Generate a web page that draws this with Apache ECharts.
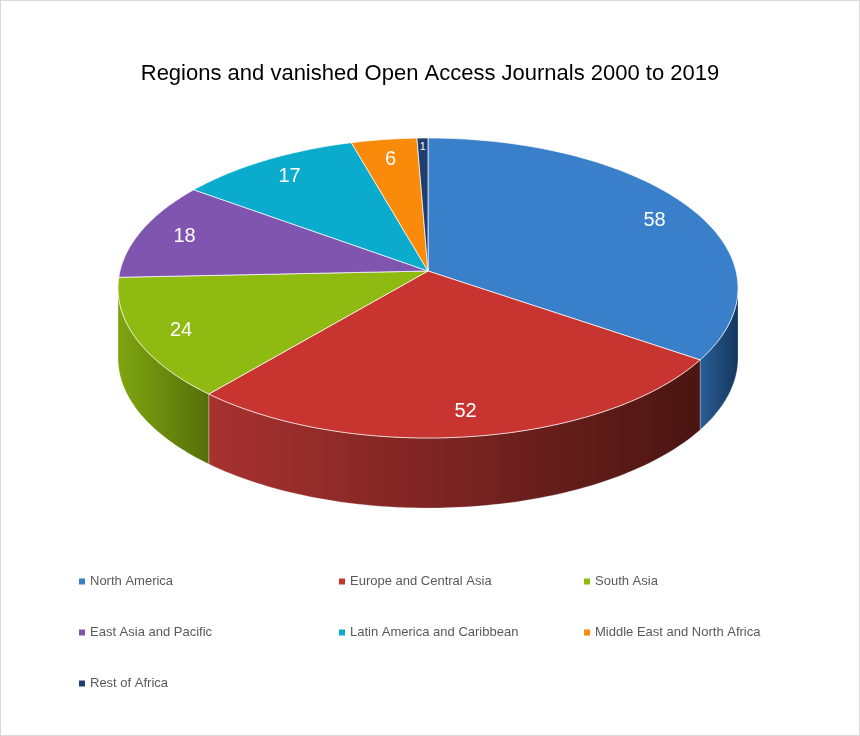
<!DOCTYPE html>
<html><head><meta charset="utf-8">
<script src="https://cdn.jsdelivr.net/npm/echarts@6/dist/echarts.min.js"></script>
<style>html,body{margin:0;padding:0;background:#fff}#c{width:860px;height:736px;box-sizing:border-box;border:1px solid #d9d9d9}</style>
</head><body><div id="c"></div>
<script>
const categories=["North America","Europe and Central Asia","South Asia","East Asia and Pacific","Latin America and Caribbean","Middle East and North Africa","Rest of Africa"];
const values=[58,52,24,18,17,6,1];
const colors=["#3a7fc9","#c83430","#8fba12","#7f55b0","#0aabcc","#f98a0a","#1d3e6e"];
const sideDark=["#14365e","#4a1512","#55700a","#4a3070","#067085","#9a5206","#0e1f38"];
const sideLight=["#2a5e96","#a83230","#7fa50f","#6a4698","#089abb","#d07508","#183660"];
const total=values.reduce((a,b)=>a+b,0);
const cx=427,cy=287,rx=310,ry=150,ax=427,ay=270,depth=70;
function pt(t,dy){return [cx+rx*Math.sin(t),cy-ry*Math.cos(t)+(dy||0)];}
function arc(a,b,dy){const n=Math.max(2,Math.ceil((b-a)/0.02));const p=[];for(let i=0;i<=n;i++)p.push(pt(a+(b-a)*i/n,dy));return p;}
const chart=echarts.init(document.getElementById('c'));
chart.setOption({
  color:colors,
  title:{text:"Regions and vanished Open Access Journals 2000 to 2019",left:'center',top:57,textStyle:{fontSize:22,fontWeight:'normal',color:'#000',fontFamily:'Liberation Sans, Arial'}},
  legend:[
    {data:[categories[0],categories[3],categories[6]],orient:'vertical',left:73,top:569,itemGap:38},
    {data:[categories[1],categories[4]],orient:'vertical',left:333,top:569,itemGap:38},
    {data:[categories[2],categories[5]],orient:'vertical',left:578,top:569,itemGap:38}
  ].map(l=>Object.assign(l,{icon:'rect',itemWidth:6,itemHeight:6,textStyle:{fontSize:13,color:'#595959',fontFamily:'Liberation Sans, Arial'}})),
  series:[
    {type:'pie',radius:[0,0],center:[-100,-100],data:categories.map((c,i)=>({name:c,value:values[i]})),label:{show:false},silent:true},
    {type:'custom',coordinateSystem:'none',data:values.map((v,i)=>[v,i]),
     renderItem:function(params,api){
       const i=api.value(1),v=api.value(0);
       let before=0;for(let k=0;k<i;k++)before+=values[k];
       const a=before/total*2*Math.PI,b=(before+v)/total*2*Math.PI;
       const children=[];
       const s=Math.max(a,Math.PI/2),e=Math.min(b,Math.PI*1.5);
       if(e>s){
         const top=arc(s,e,0),bot=arc(s,e,depth).reverse();
         children.push({type:'polygon',z2:1,shape:{points:top.concat(bot)},style:{fill:new echarts.graphic.LinearGradient(0,0,1,0,[{offset:0,color:sideLight[i]},{offset:1,color:sideDark[i]}]),stroke:'rgba(255,255,255,0.5)',lineWidth:0.5}});
       }
       const face=[[ax,ay]].concat(arc(a,b,0));
       children.push({type:'polygon',z2:10,shape:{points:face},style:{fill:colors[i],stroke:'#fff',lineWidth:0.7}});
       const m=(a+b)/2,P=pt(m,0);
       const r=v<3?0.93:0.85;
       children.push({type:'text',z2:20,style:{text:String(v),x:ax+(P[0]-ax)*r,y:ay+(P[1]-ay)*r,fill:'#fff',fontSize:v<3?11:20,align:'center',verticalAlign:'middle',fontFamily:'Liberation Sans, Arial'}});
       return {type:'group',children:children};
     }}
  ]
});
</script></body></html>
